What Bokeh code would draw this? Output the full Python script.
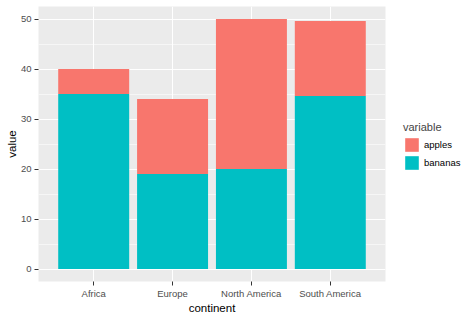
from bokeh.plotting import figure
from bokeh.layouts import row
from bokeh.models import (ColumnDataSource, FactorRange, Range1d, SingleIntervalTicker,
                          Legend, LegendItem)
from bokeh.embed import file_html
from bokeh.resources import INLINE

continents = ["Africa", "Europe", "North America", "South America"]
bananas = [35, 19, 20, 34.6]
apples = [5, 15, 30, 15]
variables = ["apples", "bananas"]
colors = {"apples": "#F8766D", "bananas": "#00BFC4"}

src = ColumnDataSource(dict(continent=continents, bananas=bananas, apples=apples))

FONT = "Liberation Sans"

p = figure(width=395, height=316,
           x_range=FactorRange(*continents, range_padding=0.2, range_padding_units="absolute"),
           y_range=Range1d(-2.5, 52.5), output_backend="svg", toolbar_location=None,
           min_border_left=38, min_border_right=10, min_border_top=6, min_border_bottom=35)
p.background_fill_color = "#EBEBEB"
p.border_fill_color = "white"
p.outline_line_color = None

rs = p.vbar_stack(["bananas", "apples"], x="continent", width=0.9, source=src,
                  color=[colors["bananas"], colors["apples"]], line_color=None)

p.yaxis.ticker = SingleIntervalTicker(interval=10, num_minor_ticks=2)
p.ygrid.ticker = p.yaxis.ticker
p.ygrid.grid_line_color = "white"
p.ygrid.grid_line_width = 1.1
p.ygrid.minor_grid_line_color = "white"
p.ygrid.minor_grid_line_width = 0.55
p.xgrid.grid_line_color = "white"
p.xgrid.grid_line_width = 1.1

for ax in (p.xaxis, p.yaxis):
    ax.axis_line_color = None
    ax.major_tick_line_color = "#333333"
    ax.major_tick_out = 4
    ax.major_tick_in = 0
    ax.minor_tick_line_color = None
    ax.major_label_text_font = FONT
    ax.major_label_text_font_size = "9.5px"
    ax.major_label_text_color = "#4D4D4D"
    ax.axis_label_text_font = FONT
    ax.axis_label_text_font_size = "11.5px"
    ax.axis_label_text_font_style = "normal"
    ax.axis_label_text_color = "black"
    ax.major_label_standoff = 3
p.xaxis.major_label_standoff = 2
p.xaxis.axis_label_standoff = 0
p.yaxis.axis_label_standoff = 0

p.xaxis.axis_label = "continent"
p.yaxis.axis_label = "value"

# legend panel as a separate, axis-less figure (dummy bars lie outside its range)
lg = figure(width=79, height=316, x_range=Range1d(0, 1), y_range=Range1d(0, 1),
            x_axis_type=None, y_axis_type=None, output_backend="svg", toolbar_location=None,
            min_border=0, outline_line_color=None)
lg.background_fill_color = "white"
lg.border_fill_color = "white"
lg.xgrid.visible = False
lg.ygrid.visible = False
dummy = ColumnDataSource(dict(x=[10], top=[10]))
r_apples = lg.vbar(x="x", top="top", bottom=9, width=0.1, source=dummy,
                   fill_color=colors["apples"], line_color=None)
r_bananas = lg.vbar(x="x", top="top", bottom=9, width=0.1, source=dummy,
                    fill_color=colors["bananas"], line_color=None)

legend = Legend(items=[LegendItem(label=variables[0], renderers=[r_apples]),
                       LegendItem(label=variables[1], renderers=[r_bananas])],
                location=(8, 110), title="variable",
                title_text_font=FONT, title_text_font_size="11px", title_text_font_style="normal",
                label_text_font=FONT, label_text_font_size="9.5px", label_text_color="black",
                label_text_font_style="normal",
                glyph_width=17, glyph_height=17, label_height=17, spacing=1, padding=0, margin=0,
                title_standoff=3, label_standoff=4,
                background_fill_alpha=0, border_line_color=None)
lg.add_layout(legend)

layout = row(p, lg, spacing=0)
open("out.html", "w").write(file_html(layout, INLINE))
